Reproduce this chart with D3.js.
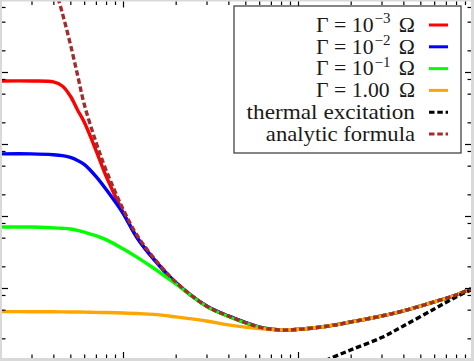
<!DOCTYPE html>
<html><head><meta charset="utf-8">
<script src="https://cdn.jsdelivr.net/npm/d3@7"></script>
<style>html,body{margin:0;padding:0;background:#fff;overflow:hidden}</style>
</head><body><svg id="c" width="474" height="361"></svg>
<script>
// ---- data ----
const xValues   = [0.02,0.03,0.04,0.045,0.05,0.055,0.06,0.07,0.08,0.1,0.12,0.15,0.2,0.3,0.4,0.6,0.8,1,1.5,2,3,4,6,8,10];
const gamma1e3  = [750,750,727,639,464,297,202,82.5,35.9,11.4,5.11,2.53,1.19,0.562,0.408,0.287,0.261,0.266,0.297,0.337,0.408,0.48,0.64,0.80,1.0];
const gamma1e2  = [73,73,71,69,65,59,52,35.5,23.5,10.9,5.02,2.49,1.19,0.562,0.408,0.287,0.261,0.266,0.297,0.337,0.408,0.48,0.64,0.80,1.0];
const gamma1e1  = [7.03,7.02,6.85,6.75,6.6,6.3,5.95,5.35,4.7,3.5,2.68,1.88,1.14,0.556,0.402,0.287,0.261,0.266,0.297,0.337,0.408,0.48,0.64,0.80,1.0];
const gamma1    = [0.47,0.469,0.467,0.466,0.465,0.464,0.462,0.459,0.456,0.45,0.443,0.43,0.397,0.348,0.308,0.273,0.262,0.266,0.297,0.337,0.408,0.48,0.64,0.80,1.0];
const analytic  = [null,null,17800,6600,2450,908,359,107,43.5,12.5,5.45,2.61,1.21,0.562,0.408,0.287,0.261,0.266,0.297,0.337,0.408,0.48,0.64,0.80,1.0];
const thermalX  = [1.3,1.5,2,3,4,6,8,10];
const thermalY  = [0.088,0.103,0.138,0.205,0.297,0.511,0.75,0.97];

const xMajorTicks = [0.1, 1, 10];
const xMinorTicks = [0.02,0.03,0.04,0.05,0.06,0.07,0.08,0.09,0.2,0.3,0.4,0.5,0.6,0.7,0.8,0.9,2,3,4,5,6,7,8,9];
const yMajorTicks = [0.1, 1, 10, 100, 1000, 10000];
const yMinorTicks = [0.2,0.5,0.8,2,5,8,20,50,80,200,500,800,2000,5000,8000];

const legendBase = ["Γ = 10","Γ = 10","Γ = 10","Γ = 1.00","thermal excitation","analytic formula"];
const legendExp  = ["−3","−2","−1","","",""];
const legendUnit = ["Ω","Ω","Ω","Ω","",""];

// ---- layout ----
const W = 474, H = 361;
const L = 2, R = 471, T = 1.5, B = 358;

const svg = d3.select("#c");
const x = d3.scaleLog().domain([0.01, 10]).range([-52, 473]);
const y = d3.scaleLog().domain([0.1, 1e4]).range([360, 0]);

svg.append("rect").attr("width", W).attr("height", H).attr("fill", "#d9d9d9");
svg.append("rect").attr("x", L).attr("y", T).attr("width", R - L).attr("height", B - T).attr("fill", "#fff");

svg.append("clipPath").attr("id", "clip").append("rect")
  .attr("x", L).attr("y", T).attr("width", R - L).attr("height", B - T);

const line = d3.line()
  .defined(d => d[1] != null)
  .x(d => x(d[0])).y(d => y(d[1]))
  .curve(d3.curveCatmullRom.alpha(0.5));

const plot = svg.append("g").attr("clip-path", "url(#clip)");
const dash = "5.5,2.8";
const series = [
  {xs: xValues, ys: gamma1e3, color: "#ff0000", dash: null},
  {xs: xValues, ys: gamma1e2, color: "#0000ff", dash: null},
  {xs: xValues, ys: gamma1e1, color: "#00ff00", dash: null},
  {xs: xValues, ys: gamma1,   color: "#ffa500", dash: null},
  {xs: thermalX, ys: thermalY, color: "#000000", dash: dash},
  {xs: xValues, ys: analytic, color: "#a52a2a", dash: dash}
];
series.forEach(s => {
  plot.append("path")
    .datum(s.xs.map((v, i) => [v, s.ys[i]]))
    .attr("d", line)
    .attr("fill", "none")
    .attr("stroke", s.color)
    .attr("stroke-width", 3.4)
    .attr("stroke-dasharray", s.dash);
});

// ---- ticks (inward, all four sides) ----
const inX = v => x(v) > L + 0.5 && x(v) < R - 0.5;
const inY = v => y(v) > T + 0.5 && y(v) < B - 0.5;
function styleAxis(g) {
  g.select(".domain").remove();
  g.selectAll("line").attr("stroke", "#000").attr("stroke-width", 1.2);
  g.selectAll("text").remove();
}
const axes = [
  [d3.axisBottom, x, `translate(0,${T})`, xMajorTicks.filter(inX), 6],
  [d3.axisBottom, x, `translate(0,${T})`, xMinorTicks.filter(inX), 3.5],
  [d3.axisTop,    x, `translate(0,${B})`, xMajorTicks.filter(inX), 6],
  [d3.axisTop,    x, `translate(0,${B})`, xMinorTicks.filter(inX), 3.5],
  [d3.axisRight,  y, `translate(${L},0)`, yMajorTicks.filter(inY), 6],
  [d3.axisRight,  y, `translate(${L},0)`, yMinorTicks.filter(inY), 3.5],
  [d3.axisLeft,   y, `translate(${R},0)`, yMajorTicks.filter(inY), 6],
  [d3.axisLeft,   y, `translate(${R},0)`, yMinorTicks.filter(inY), 3.5]
];
axes.forEach(([fn, sc, tr, vals, len]) => {
  svg.append("g").attr("transform", tr)
    .call(fn(sc).tickValues(vals).tickSize(len).tickFormat(""))
    .call(styleAxis);
});

// ---- legend ----
const lg = svg.append("g");
lg.append("rect").attr("x", 234).attr("y", 6).attr("width", 227).attr("height", 147)
  .attr("fill", "#fff").attr("stroke", "#444").attr("stroke-width", 1.3);
const rowY0 = 25, rowDy = 21.8, textRight = 415;
const targetW = [99, 99, 99, 99, 169, 150];
legendBase.forEach((lab, i) => {
  const cy = rowY0 + i * rowDy;
  const s = series[i];
  lg.append("line").attr("x1", 429).attr("x2", 448).attr("y1", cy).attr("y2", cy)
    .attr("stroke", s.color).attr("stroke-width", 3).attr("stroke-dasharray", s.dash);
  const g = lg.append("g");
  const t = g.append("text").attr("x", 0).attr("y", 0)
    .attr("text-anchor", "end")
    .attr("font-family", "'Liberation Serif', serif")
    .attr("font-size", 21).attr("fill", "#1a1a1a");
  t.append("tspan").text(lab);
  if (legendExp[i]) {
    t.append("tspan").attr("dy", -8.5).attr("font-size", 14.5).attr("dx", 1).text(legendExp[i]);
    t.append("tspan").attr("dy", 8.5).attr("dx", 8).text(legendUnit[i]);
  } else if (legendUnit[i]) {
    t.append("tspan").attr("dx", 9).text(legendUnit[i]);
  }
  const w = t.node().getBBox().width;
  const sx = targetW[i] / w;
  g.attr("transform", `translate(${textRight},${cy + 6.8}) scale(${sx},1)`);
});
</script></body></html>
